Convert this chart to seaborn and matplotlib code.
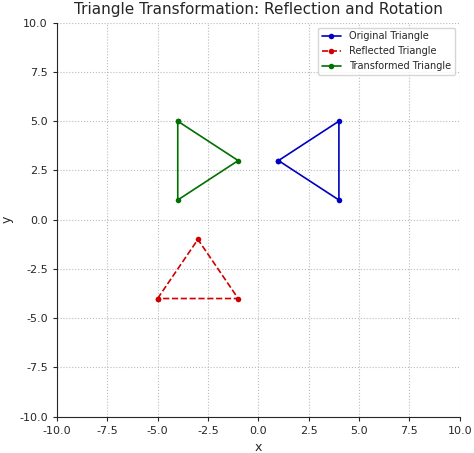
import matplotlib
matplotlib.use("Agg")
import matplotlib.pyplot as plt
import seaborn as sns
import pandas as pd

orig_x = [1, 4, 4, 1]
orig_y = [3, 5, 1, 3]
refl_x = [-5, -3, -1, -5]
refl_y = [-4, -1, -4, -4]
trans_x = [-4, -1, -4, -4]
trans_y = [5, 3, 1, 5]

sns.set_style("white")
fig, ax = plt.subplots(figsize=(4.74, 4.53), dpi=100)

series = [
    ("Original Triangle", orig_x, orig_y, "#0000c0", "-"),
    ("Reflected Triangle", refl_x, refl_y, "#d00000", "--"),
    ("Transformed Triangle", trans_x, trans_y, "#007000", "-"),
]
for label, xs, ys, color, ls in series:
    df = pd.DataFrame({"x": xs, "y": ys})
    sns.lineplot(data=df, x="x", y="y", sort=False, estimator=None, ax=ax,
                 color=color, linestyle=ls, marker="o", markersize=4,
                 markeredgewidth=0, linewidth=1.2, label=label)

ticks = [-10, -7.5, -5, -2.5, 0, 2.5, 5, 7.5, 10]
ax.set_xlim(-10, 10)
ax.set_ylim(-10, 10)
ax.set_xticks(ticks)
ax.set_yticks(ticks)
ax.set_xticklabels([f"{v:.1f}" for v in ticks])
ax.set_yticklabels([f"{v:.1f}" for v in ticks])
ax.grid(True, linestyle=":", color="#bbbbbb", linewidth=0.8)
ax.set_title("Triangle Transformation: Reflection and Rotation", fontsize=11)
ax.set_xlabel("x", fontsize=9)
ax.set_ylabel("y", fontsize=9)
ax.tick_params(labelsize=8, left=True, bottom=True, length=3)
for s in ["top", "right"]:
    ax.spines[s].set_visible(False)
ax.legend(loc="upper right", fontsize=7)
fig.subplots_adjust(left=0.12, right=0.97, bottom=0.08, top=0.95)
fig.savefig("out.png", dpi=100)
